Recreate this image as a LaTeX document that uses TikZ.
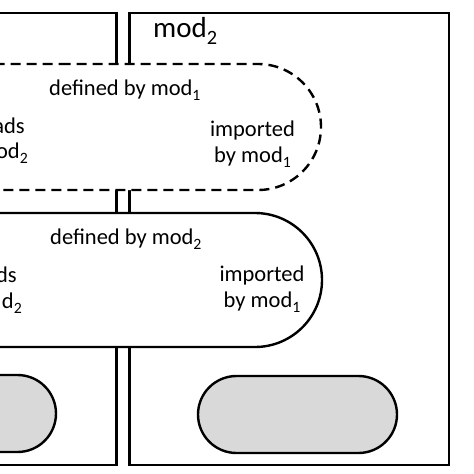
\documentclass[tikz,border=0pt]{standalone}
\usepackage{fontspec}
\setmainfont{Carlito}
\usetikzlibrary{shapes.misc}
\newcommand{\sbs}[1]{\raisebox{-0.25em}{\fontsize{0.7\dimexpr\fontdimen6\font\relax}{1}\selectfont #1}}
\tikzset{
  modbox/.style={draw, line width=2.4pt, rectangle, inner sep=0pt},
  pill/.style={draw, line width=2.4pt, rounded rectangle, inner sep=0pt, fill=white},
  dashpill/.style={pill, dash pattern=on 10pt off 6pt},
  graypill/.style={draw, line width=2.4pt, rounded rectangle, inner sep=0pt, fill=black!15},
  lbl/.style={inner sep=0pt, font=\fontsize{22.5}{26}\selectfont},
  biglbl/.style={inner sep=0pt, font=\fontsize{29}{32}\selectfont}
}
\begin{document}
\begin{tikzpicture}[x=1pt,y=-1pt]
\useasboundingbox (0,0) rectangle (474,474);
% module boxes
\node[modbox, minimum width=466.5pt, minimum height=452pt] (box1) at (-116.75,239) {};
\node[modbox, minimum width=319.5pt, minimum height=452pt] (box2) at (289.25,239) {};
\node[biglbl, anchor=base west] (m2) at (153,37) {mod\sbs{2}};
% dashed pill (defined by mod1)
\node[dashpill, minimum width=521pt, minimum height=126pt] (p1) at (60.5,127) {};
\node[lbl, anchor=base west] (d1) at (49,95) {defined by mod\sbs{1}};
\node[lbl, anchor=base east] (l1a) at (25,133) {ads};
\node[lbl, anchor=base east] (l1b) at (28,158) {od\sbs{2}};
\node[lbl, anchor=base] (i1a) at (252.5,136) {imported};
\node[lbl, anchor=base] (i1b) at (252.5,162) {by mod\sbs{1}};
% solid pill (defined by mod2)
\node[pill, minimum width=522pt, minimum height=134pt] (p2) at (61,280) {};
\node[lbl, anchor=base west] (d2) at (50,244) {defined by mod\sbs{2}};
\node[lbl, anchor=base east] (l2a) at (17,282) {ds};
\node[lbl, anchor=base east] (l2b) at (22,308) {d\sbs{2}};
\node[lbl, anchor=base] (i2a) at (262,281) {imported};
\node[lbl, anchor=base] (i2b) at (262,307) {by mod\sbs{1}};
% gray pills
\node[graypill, minimum width=206pt, minimum height=77pt] (g1) at (-47,413.5) {};
\node[graypill, minimum width=199pt, minimum height=77pt] (g2) at (297.5,414.5) {};
\end{tikzpicture}
\end{document}
